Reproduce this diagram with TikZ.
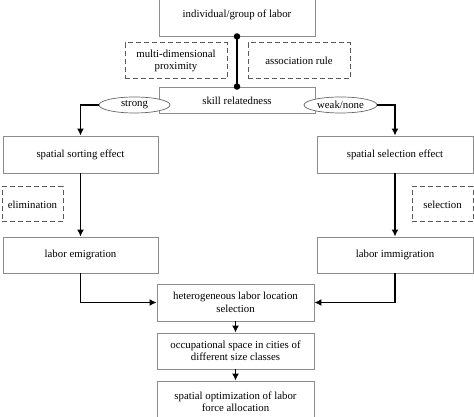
\documentclass[tikz,border=0pt]{standalone}
\usepackage{fontspec}
\setmainfont{Liberation Serif}
\usetikzlibrary{shapes.geometric,arrows.meta}
\begin{document}
\begin{tikzpicture}[x=1pt,y=1pt,
  txt/.style={font=\fontsize{10.8}{12.5}\selectfont},
  box/.style={txt,draw=black!45,line width=0.9pt,fill=white,inner sep=2pt,align=center},
  dbox/.style={txt,draw=black!65,dashed,dash pattern=on 5pt off 3pt,line width=1pt,inner sep=2pt,align=center},
  oval/.style={txt,ellipse,draw=black!60,line width=0.7pt,fill=white,inner sep=0pt},
  arr/.style={line width=1.6pt,-{Latex[length=7pt,width=7pt]}},
  dotc/.style={circle,fill=black,inner sep=0pt,minimum size=6.5pt}]
\useasboundingbox (0,0) rectangle (474,417);
\node[box,minimum width=156pt,minimum height=42pt] (top) at (237,402) {individual/group of labor};
\node[dbox,minimum width=102pt,minimum height=36pt] (prox) at (176,356) {multi-dimensional\\proximity};
\node[dbox,minimum width=102pt,minimum height=36pt] (assoc) at (299,356) {association rule};
\node[box,minimum width=156pt,minimum height=26pt,text height=11pt,text depth=1pt] (skill) at (237,317) {skill relatedness};
\node[oval,minimum width=71pt,minimum height=16pt] (strong) at (134.5,312) {strong};
\node[oval,minimum width=73pt,minimum height=16pt] (weak) at (340.5,312) {weak/none};
\node[box,minimum width=155pt,minimum height=37pt] (sort) at (80.5,262.5) {spatial sorting effect};
\node[box,minimum width=156pt,minimum height=37pt] (sel) at (395,262.5) {spatial selection effect};
\node[dbox,minimum width=61pt,minimum height=35pt] (elim) at (32.5,212.5) {elimination};
\node[dbox,minimum width=61pt,minimum height=35pt] (selc) at (442.5,212.5) {selection};
\node[box,minimum width=155pt,minimum height=36pt] (emig) at (80.5,162) {labor emigration};
\node[box,minimum width=156pt,minimum height=36pt] (immig) at (395,162) {labor immigration};
\node[box,minimum width=157pt,minimum height=37pt] (het) at (235.5,114.5) {heterogeneous labor location\\selection};
\node[box,minimum width=157pt,minimum height=36pt] (occ) at (235.5,66) {occupational space in cities of\\different size classes};
\node[box,minimum width=157pt,minimum height=42pt] (opt) at (235.5,15) {spatial optimization of labor\\force allocation};
\draw[line width=2.2pt] (top.south) -- (skill.north);
\node[dotc] (d1) at (top.south) {};
\node[dotc] (d2) at (skill.north) {};
\draw[arr] (strong.west) -| (sort.north);
\draw[arr] (weak.east) -| (sel.north);
\draw[arr] (sort.south) -- (emig.north);
\draw[arr] (sel.south) -- (immig.north);
\draw[arr] (emig.south) |- (het.west);
\draw[arr] (immig.south) |- (het.east);
\draw[arr] (het.south) -- (occ.north);
\draw[arr] (occ.south) -- (opt.north);
\end{tikzpicture}
\end{document}
